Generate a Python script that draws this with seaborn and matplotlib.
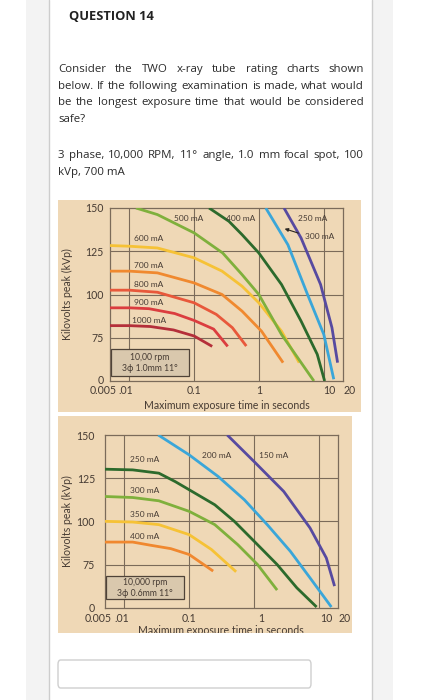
import numpy as np
import pandas as pd
import matplotlib
matplotlib.use("Agg")
import matplotlib.pyplot as plt
import seaborn as sns
from matplotlib.patches import Rectangle, FancyBboxPatch
from matplotlib.transforms import Bbox, TransformedBbox, ScaledTranslation
from matplotlib.ticker import NullLocator

# ---------------- data: chart 1 (3 phase, 10,000 rpm, 1.0 mm, 11 deg) --------------
a_labels = ["1000 mA", "900 mA", "800 mA", "700 mA", "600 mA",
            "500 mA", "400 mA", "300 mA", "250 mA"]
a_t_1000 = [0.005, 0.01, 0.021, 0.048, 0.1, 0.19]
a_k_1000 = [82, 82, 81.5, 79.5, 76, 70]
a_t_900 = [0.005, 0.01, 0.02, 0.05, 0.1, 0.2, 0.33]
a_k_900 = [92.3, 92.3, 91.8, 89, 85, 80, 70]
a_t_800 = [0.005, 0.01, 0.027, 0.1, 0.22, 0.39, 0.64]
a_k_800 = [102.5, 102.5, 101.3, 95.2, 88.5, 80.8, 70.2]
a_t_700 = [0.005, 0.01, 0.027, 0.1, 0.27, 0.55, 1.1, 2.37]
a_k_700 = [113.5, 113.5, 112.5, 106.7, 100, 90.4, 78.8, 60.6]
a_t_600 = [0.005, 0.01, 0.027, 0.1, 0.27, 0.55, 1.0, 2.24, 4.2]
a_k_600 = [128.3, 127.9, 126.9, 121.2, 113.5, 104.8, 95.2, 78.8, 60.6]
a_t_500 = [0.0126, 0.027, 0.1, 0.276, 0.55, 1.0, 2.24, 7.1]
a_k_500 = [150, 146.2, 135.6, 124, 111.5, 100, 76.9, 50]
a_t_400 = [0.17, 0.345, 0.55, 1.0, 2.24, 4.5, 8.0, 10.4]
a_k_400 = [150, 142.3, 134.6, 124, 105.8, 84.6, 65.4, 50]
a_t_300 = [1.28, 2.81, 5.66, 10.1, 14.4]
a_k_300 = [150, 128.8, 100, 76.9, 51]
a_t_250 = [2.45, 4.49, 9.0, 13.5, 16.5]
a_k_250 = [150, 132.7, 105.8, 80.8, 60.6]

# ---------------- data: chart 2 (3 phase, 10,000 rpm, 0.6 mm, 11 deg) --------------
b_labels = ["400 mA", "350 mA", "300 mA", "250 mA", "200 mA", "150 mA"]
b_t_400 = [0.005, 0.0134, 0.025, 0.052, 0.10, 0.235]
b_k_400 = [88, 88, 86.2, 84.2, 80.8, 71.2]
b_t_350 = [0.005, 0.0134, 0.034, 0.10, 0.221, 0.532]
b_k_350 = [100, 99.6, 98.1, 92.3, 83.7, 70.8]
b_t_300 = [0.005, 0.0134, 0.034, 0.10, 0.249, 0.564, 1.14, 2.29]
b_k_300 = [114.4, 113.8, 111.9, 105.8, 98.1, 86.5, 75, 60.2]
b_t_250 = [0.005, 0.0134, 0.034, 0.061, 0.10, 0.249, 0.50, 1.01, 2.29, 4.62, 9.34]
b_k_250 = [130.2, 129.8, 127.9, 123.0, 118.3, 109.6, 100, 88.5, 75, 61.5, 50.4]
b_t_200 = [0.0333, 0.10, 0.28, 0.713, 1.61, 3.66, 7.38, 15.8]
b_k_200 = [150, 138.5, 126, 112.5, 98.1, 82.7, 67.3, 50.4]
b_t_150 = [0.388, 1.01, 2.9, 7.38, 13.2, 17.7]
b_k_150 = [150, 134.6, 117.3, 96.2, 78.8, 62.5]

x_ticks = [0.005, 0.01, 0.1, 1, 10, 20]
x_tick_labels = ["0.005", ".01", "0.1", "1", "10", "20"]
y_ticks = [50, 75, 100, 125, 150]
y_tick_labels = ["0", "75", "100", "125", "150"]

# ---------------- styles -------------------------------------------------------
a_colors = ["#b42f3a", "#db3d3f", "#e8583b", "#f0892f", "#f6c236",
            "#7fb03c", "#2c6a2c", "#3aa6d9", "#574aa0"]
b_colors = ["#f0882f", "#f6c236", "#7fb03c", "#2c6a2c", "#3aa6d9", "#574aa0"]
TAN = "#efd8b6"
GRID = "#7b6b5a"
CTXT = "#463b33"
CFONT = ["Lato", "DejaVu Sans"]
W, H = 448, 700

sns.set_theme(style="white")
plt.rcParams["font.family"] = CFONT

fig = plt.figure(figsize=(W / 100, H / 100), dpi=100)
fig.patch.set_facecolor("white")


def fx(px):
    return px / W


def fy(py):
    return 1 - py / H


def frect(x0, y0, x1, y1, **kw):
    p = Rectangle((fx(x0), fy(y1)), fx(x1) - fx(x0), fy(y0) - fy(y1),
                  transform=fig.transFigure, **kw)
    fig.patches.append(p)
    return p


# page frame
frect(26, 0, 49, 700, facecolor="#f3f3f3", edgecolor="none", zorder=-5)
frect(372, 0, 393, 700, facecolor="#f3f3f3", edgecolor="none", zorder=-5)
fig.add_artist(plt.Line2D([fx(49), fx(49)], [0, 1], color="#cdcdcd", lw=1.0,
                          transform=fig.transFigure, zorder=-4))
fig.add_artist(plt.Line2D([fx(372), fx(372)], [0, 1], color="#cdcdcd", lw=1.0,
                          transform=fig.transFigure, zorder=-4))

# chart image backgrounds
frect(58, 200, 361, 412, facecolor=TAN, edgecolor="none", zorder=-3)
frect(58, 416, 352, 633, facecolor=TAN, edgecolor="none", zorder=-3)

# answer box
box = FancyBboxPatch((fx(58), fy(688)), fx(311) - fx(58), fy(660) - fy(688),
                     boxstyle="round,pad=0,rounding_size=0.006",
                     transform=fig.transFigure, facecolor="white",
                     edgecolor="#cfcfcf", lw=1.0, zorder=-2)
fig.patches.append(box)


def make_axes(rect_px, ypad, xpad):
    l, t, r, b = rect_px
    ax = fig.add_axes([fx(l), fy(b), fx(r) - fx(l), fy(t) - fy(b)])
    ax.set_facecolor("none")
    ax.set_xscale("log")
    ax.set_xlim(0.005, 20)
    ax.set_ylim(50, 150)
    ax.set_xticks(x_ticks)
    ax.set_xticklabels(x_tick_labels)
    ax.xaxis.set_minor_locator(NullLocator())
    ax.set_yticks(y_ticks)
    ax.set_yticklabels(y_tick_labels)
    ax.tick_params(axis="both", length=0, labelsize=7.6, labelcolor=CTXT)
    ax.tick_params(axis="y", pad=ypad)
    ax.tick_params(axis="x", pad=xpad)
    for s in ax.spines.values():
        s.set_color(GRID)
        s.set_linewidth(0.9)
        s.set_visible(True)
    for v in [0.01, 0.1, 1, 10]:
        ax.axvline(v, color=GRID, lw=0.8, zorder=1)
    for v in [75, 100, 125]:
        ax.axhline(v, color=GRID, lw=0.8, zorder=1)
    return ax


def plot_curves(ax, labels, ts, ks, colors):
    frames = []
    for lab, t, k in zip(labels, ts, ks):
        frames.append(pd.DataFrame({"t": t, "kVp": k, "mA": lab}))
    df = pd.concat(frames, ignore_index=True)
    sns.lineplot(data=df, x="t", y="kVp", hue="mA", hue_order=labels,
                 palette=dict(zip(labels, colors)), estimator=None, sort=False,
                 linewidth=2.0, legend=False, ax=ax, zorder=3)
    ax.set_xlabel("")
    ax.set_ylabel("")
    for ln in ax.get_lines():
        ln.set_solid_joinstyle("round")
        ln.set_solid_capstyle("butt")


def shift_labels(labels, offsets, vertical=False):
    for lab, d in zip(labels, offsets):
        dx, dy = (0, d) if vertical else (d, 0)
        lab.set_transform(lab.get_transform() +
                          ScaledTranslation(dx / 100, dy / 100, fig.dpi_scale_trans))


def info_box(ax, x0, x1, y0, y1, text):
    ax.add_patch(Rectangle((x0, y0), x1 - x0, y1 - y0, facecolor="#d9c8ad",
                           edgecolor="#4f4338", lw=0.9, zorder=4))
    ax.text(np.sqrt(x0 * x1), (y0 + y1) / 2, text, ha="center", va="center",
            fontsize=6.2, color=CTXT, linespacing=1.25, zorder=5)


lbl_kw = dict(fontsize=6.0, color=CTXT, ha="center", va="center", zorder=5)

# ---------------- chart 1 ------------------------------------------------------
ax1 = make_axes((110, 208, 343, 381), ypad=4.5, xpad=3.2)
plot_curves(ax1, a_labels,
            [a_t_1000, a_t_900, a_t_800, a_t_700, a_t_600, a_t_500, a_t_400, a_t_300, a_t_250],
            [a_k_1000, a_k_900, a_k_800, a_k_700, a_k_600, a_k_500, a_k_400, a_k_300, a_k_250],
            a_colors)
shift_labels(ax1.get_xticklabels(), [-7, -4, 0, 0, 6, 7])
shift_labels(ax1.get_yticklabels(), [2, 0, 0, 0, 0], vertical=True)
ax1.set_xlabel("Maximum exposure time in seconds", fontsize=7.6, color=CTXT)
ax1.xaxis.set_label_coords(0.502, -0.1395)
ax1.xaxis.label.set_va("center")
ax1.set_ylabel("Kilovolts peak (kVp)", fontsize=7.6, color=CTXT)
ax1.yaxis.set_label_coords(-0.1845, 0.5)
ax1.yaxis.label.set_va("center")
for lab, x, y in [("600 mA", 0.0196, 132.1), ("700 mA", 0.0196, 116.7),
                  ("800 mA", 0.0196, 105.8), ("900 mA", 0.0196, 95.2),
                  ("1000 mA", 0.0198, 85.2), ("500 mA", 0.081, 143.8),
                  ("400 mA", 0.515, 143.8), ("250 mA", 6.8, 144.2),
                  ("300 mA", 8.8, 133.7)]:
    ax1.text(x, y, lab, **lbl_kw)
ax1.annotate("", xy=(2.28, 138.5), xytext=(4.49, 135.0),
             arrowprops=dict(arrowstyle="-|>", color="#2a2520", lw=0.8,
                             mutation_scale=5), zorder=6)
info_box(ax1, 0.0051, 0.084, 52.9, 68.3, "10,00 rpm\n3ϕ 1.0mm 11°")

# ---------------- chart 2 ------------------------------------------------------
ax2 = make_axes((105, 435, 338, 607.7), ypad=7.2, xpad=3.6)
plot_curves(ax2, b_labels,
            [b_t_400, b_t_350, b_t_300, b_t_250, b_t_200, b_t_150],
            [b_k_400, b_k_350, b_k_300, b_k_250, b_k_200, b_k_150],
            b_colors)
shift_labels(ax2.get_xticklabels(), [-7, -3, 0, 7, 8, 7])
xl2 = ax2.set_xlabel("Maximum exposure time in seconds", fontsize=7.6, color=CTXT)
ax2.xaxis.set_label_coords(0.499, -0.13)
ax2.xaxis.label.set_va("center")
ax2.set_ylabel("Kilovolts peak (kVp)", fontsize=7.6, color=CTXT)
ax2.yaxis.set_label_coords(-0.162, 0.5)
ax2.yaxis.label.set_va("center")
xl2.set_clip_box(TransformedBbox(Bbox([[fx(58), fy(633)], [fx(352), fy(416)]]),
                                 fig.transFigure))
xl2.set_clip_on(True)
for lab, x, y in [("250 mA", 0.0202, 135.6), ("300 mA", 0.0202, 117.9),
                  ("350 mA", 0.0202, 103.8), ("400 mA", 0.0202, 91.3),
                  ("200 mA", 0.264, 138.1), ("150 mA", 2.0, 138.1)]:
    ax2.text(x, y, lab, **lbl_kw)
info_box(ax2, 0.00526, 0.084, 54.8, 68.3, "10,000 rpm\n3ϕ 0.6mm 11°")

# ---------------- page text ----------------------------------------------------
PFONT = ["Open Sans", "DejaVu Sans"]
TXT = "#2b2b2b"
fig.text(fx(69), fy(17), "QUESTION 14", fontsize=9.3, fontweight="bold",
         family=PFONT, color="#222222", ha="left", va="center")

lines = [
    ("Consider the TWO x-ray tube rating charts shown", 68, True),
    ("below. If the following examination is made, what would", 85, True),
    ("be the longest exposure time that would be considered", 101, True),
    ("safe?", 118, False),
    ("3 phase, 10,000 RPM, 11° angle, 1.0 mm focal spot, 100", 154, True),
    ("kVp, 700 mA", 171, False),
]
fig.canvas.draw()
renderer = fig.canvas.get_renderer()
probe = fig.text(0, 0, lines[1][0], fontsize=10, family=PFONT)
natural = probe.get_window_extent(renderer).width
probe.remove()
FS = 10 * 300 / natural
LEFT, RIGHT = 58, 364
for s, y, just in lines:
    if not just:
        fig.text(fx(LEFT), fy(y + 4), s, fontsize=FS, family=PFONT, color=TXT,
                 ha="left", va="baseline")
        continue
    words = s.split(" ")
    arts = [fig.text(0, fy(y + 4), w, fontsize=FS, family=PFONT, color=TXT,
                     ha="left", va="baseline") for w in words]
    widths = [a.get_window_extent(renderer).width for a in arts]
    gap = (RIGHT - LEFT - sum(widths)) / (len(words) - 1)
    x = LEFT
    for a, wdt in zip(arts, widths):
        a.set_x(fx(x))
        x += wdt + gap

fig.savefig("out.png", dpi=100, facecolor="white")
